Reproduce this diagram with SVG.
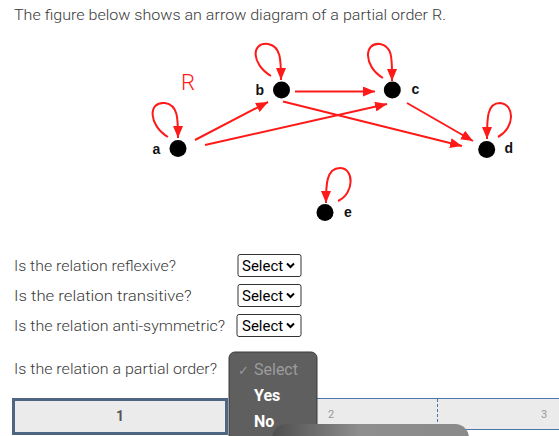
<svg xmlns="http://www.w3.org/2000/svg" width="559" height="436" viewBox="0 0 559 436">
  <defs>
    <marker id="ah" markerUnits="userSpaceOnUse" markerWidth="12" markerHeight="10" refX="12" refY="5" orient="auto" viewBox="0 0 12 10">
      <path d="M0,0 L12,5 L0,10 z" fill="#ff1a1a"/>
    </marker>
    <linearGradient id="blob" x1="0" y1="0" x2="1" y2="0">
      <stop offset="0" stop-color="#4e4e4e"/>
      <stop offset="0.45" stop-color="#8e8e8e"/>
      <stop offset="1" stop-color="#8a8a8a"/>
    </linearGradient>
  </defs>
  <style>
    .txt { font-family: Roboto, "Liberation Sans", sans-serif; font-size: 15.5px; font-weight: 300; fill: #3a3a3a; }
    .lbl { font-family: "Liberation Sans", Arial, sans-serif; font-size: 14px; font-weight: bold; fill: #111; }
    .node { fill: #000; }
    .edge { stroke: #ff1a1a; stroke-width: 2; fill: none; marker-end: url(#ah); }
    .sel { fill: #fff; stroke: #333; stroke-width: 1; }
    .seltxt { font-family: Roboto, "Liberation Sans", sans-serif; font-size: 15px; fill: #000; }
    .chev { fill: none; stroke: #000; stroke-width: 2; }
    .menu { font-family: Roboto, "Liberation Sans", sans-serif; font-size: 16px; }
    .num { font-family: Roboto, "Liberation Sans", sans-serif; font-size: 11px; fill: #999; }
  </style>
  <rect width="559" height="436" fill="#fff"/>
  <text class="txt" x="14" y="20" textLength="432" lengthAdjust="spacingAndGlyphs">The figure below shows an arrow diagram of a partial order R.</text>

  <text x="181" y="90" font-family="Roboto, 'Liberation Sans', sans-serif" font-size="22" font-weight="300" fill="#ff1a1a">R</text>

  <g id="connectors">
    <path class="edge" d="M195,140 L268,102"/>
    <path class="edge" d="M205,145 L387,104"/>
    <path class="edge" d="M295,91.5 L375,91.5"/>
    <path class="edge" d="M283,101.5 L462,146"/>
    <path class="edge" d="M407,103 L473,141"/>
    <path class="edge" d="M168,137 C148,125 148,101 165,103 C178,105 178,118 178,138"/>
    <path class="edge" d="M271,76 C251,64 251,42 268,44 C281,46 281,60 281,80"/>
    <path class="edge" d="M383,78 C363,66 364,42 380,44 C393,46 392,60 392,81"/>
    <path class="edge" d="M498,137 C515,128 515,104 500,103 C487,103 487,118 487,139"/>
    <path class="edge" d="M338,201 C355,193 354,168 340,168 C326,168 326,186 326,203"/>
  </g>

  <g id="node-a"><circle class="node" cx="178" cy="148.5" r="8.5"/><text class="lbl" x="152.5" y="153.5">a</text></g>
  <g id="node-b"><circle class="node" cx="281.5" cy="90" r="8.5"/><text class="lbl" x="255.5" y="95">b</text></g>
  <g id="node-c"><circle class="node" cx="392.3" cy="90" r="8.5"/><text class="lbl" x="411.5" y="94">c</text></g>
  <g id="node-d"><circle class="node" cx="486.7" cy="149.5" r="8.5"/><text class="lbl" x="504.5" y="153">d</text></g>
  <g id="node-e"><circle class="node" cx="325" cy="212.5" r="8.5"/><text class="lbl" x="344" y="217">e</text></g>

  <text class="txt" x="14" y="271" textLength="162" lengthAdjust="spacingAndGlyphs">Is the relation reflexive?</text>
  <text class="txt" x="14" y="301" textLength="177.5" lengthAdjust="spacingAndGlyphs">Is the relation transitive?</text>
  <text class="txt" x="14" y="331" textLength="211" lengthAdjust="spacingAndGlyphs">Is the relation anti-symmetric?</text>
  <text class="txt" x="14" y="374" textLength="203" lengthAdjust="spacingAndGlyphs">Is the relation a partial order?</text>

  <g id="select1"><rect class="sel" x="238" y="254.5" width="63" height="22" rx="2"/><text class="seltxt" x="242" y="271">Select</text><polyline class="chev" points="287,263.5 290.5,267 294,263.5"/></g>
  <g id="select2"><rect class="sel" x="238" y="284.5" width="63" height="22" rx="2"/><text class="seltxt" x="242" y="301">Select</text><polyline class="chev" points="287,293.5 290.5,297 294,293.5"/></g>
  <g id="select3"><rect class="sel" x="237" y="314.5" width="64" height="22" rx="2"/><text class="seltxt" x="242" y="331">Select</text><polyline class="chev" points="287,323.5 290.5,327 294,323.5"/></g>

  <g id="pager">
    <rect x="317" y="398" width="242" height="32" fill="#ebebeb"/>
    <line x1="317" y1="398.5" x2="559" y2="398.5" stroke="#4a76a8" stroke-width="1"/>
    <line x1="317" y1="429.5" x2="559" y2="429.5" stroke="#4a76a8" stroke-width="1"/>
    <line x1="437.5" y1="399" x2="437.5" y2="429" stroke="#4a76a8" stroke-width="1" stroke-dasharray="3,2"/>
    <text class="num" x="328" y="418">2</text>
    <text class="num" x="541" y="418">3</text>
    <rect x="13.5" y="399.5" width="213" height="34" fill="#ebebeb" stroke="#4e6583" stroke-width="3"/>
    <text x="120" y="421" text-anchor="middle" font-family="Roboto, 'Liberation Sans', sans-serif" font-size="14" font-weight="bold" fill="#555">1</text>
  </g>

  <g id="dropdown">
    <rect x="229" y="352" width="88" height="110" rx="6" fill="#5f5f5f" stroke="#3a3a3a" stroke-width="1"/>
    <text x="238" y="375" font-family="'DejaVu Sans', sans-serif" font-size="13" fill="#9a9a9a">✓</text>
    <text class="menu" x="254" y="375" fill="#9c9c9c">Select</text>
    <text class="menu" x="254" y="401" fill="#fff" font-weight="bold">Yes</text>
    <text class="menu" x="254" y="427" fill="#fff" font-weight="bold">No</text>
  </g>
  <rect x="272" y="424" width="197" height="40" rx="14" fill="url(#blob)"/>
</svg>
